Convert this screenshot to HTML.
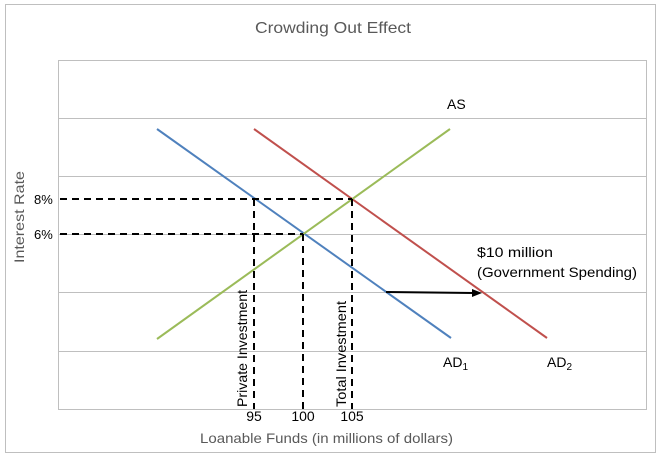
<!DOCTYPE html>
<html><head><style>body{margin:0;background:#fff}</style></head><body>
<svg width="665" height="458" xmlns="http://www.w3.org/2000/svg" font-family="'Liberation Sans', sans-serif">
<rect x="5.5" y="4.5" width="650" height="448" fill="#fff" stroke="#bfbfbf"/>
<text x="255" y="33" font-size="16" fill="#595959" textLength="156" lengthAdjust="spacingAndGlyphs">Crowding Out Effect</text>
<g stroke="#bfbfbf" stroke-width="1">
<rect x="58.5" y="60.5" width="588" height="349" fill="none"/>
<line x1="58" y1="118.5" x2="646" y2="118.5"/>
<line x1="58" y1="176.5" x2="646" y2="176.5"/>
<line x1="58" y1="234.5" x2="646" y2="234.5"/>
<line x1="58" y1="292.5" x2="646" y2="292.5"/>
<line x1="58" y1="351.5" x2="646" y2="351.5"/>
</g>
<line x1="157" y1="129" x2="451" y2="338" stroke="#4f81bd" stroke-width="2"/>
<line x1="254" y1="129" x2="547" y2="338" stroke="#c0504d" stroke-width="2"/>
<line x1="157" y1="339" x2="450" y2="129" stroke="#9bbb59" stroke-width="2"/>
<g stroke="#000" stroke-width="2" stroke-dasharray="7,5" fill="none">
<line x1="60" y1="199" x2="352" y2="199"/>
<line x1="60" y1="234" x2="303" y2="234"/>
<line x1="254" y1="199" x2="254" y2="409"/>
<line x1="303" y1="234" x2="303" y2="409"/>
<line x1="352" y1="199" x2="352" y2="409"/>
</g>
<line x1="386" y1="292" x2="474" y2="293" stroke="#000" stroke-width="2"/>
<polygon points="482,293 472,289 472,297" fill="#000"/>
<g font-size="14" fill="#000">
<text x="34" y="204" font-size="13">8%</text>
<text x="34" y="239" font-size="13">6%</text>
<text x="254" y="421" text-anchor="middle">95</text>
<text x="303" y="421" text-anchor="middle">100</text>
<text x="352" y="421" text-anchor="middle">105</text>
<text x="447" y="109">AS</text>
<text x="443" y="367">AD<tspan font-size="10" dy="3">1</tspan></text>
<text x="547" y="367">AD<tspan font-size="10" dy="3">2</tspan></text>
<text x="477" y="257" textLength="76" lengthAdjust="spacingAndGlyphs">$10 million</text>
<text x="477" y="277" textLength="160" lengthAdjust="spacingAndGlyphs">(Government Spending)</text>
<text transform="translate(247,407) rotate(-90)" textLength="117" lengthAdjust="spacingAndGlyphs">Private Investment</text>
<text transform="translate(346,407) rotate(-90)" textLength="106" lengthAdjust="spacingAndGlyphs">Total Investment</text>
</g>
<text x="200" y="443" font-size="14" fill="#595959" textLength="253" lengthAdjust="spacingAndGlyphs">Loanable Funds (in millions of dollars)</text>
<text transform="translate(24,263) rotate(-90)" font-size="14" fill="#595959" textLength="92" lengthAdjust="spacingAndGlyphs">Interest Rate</text>
</svg>
</body></html>
